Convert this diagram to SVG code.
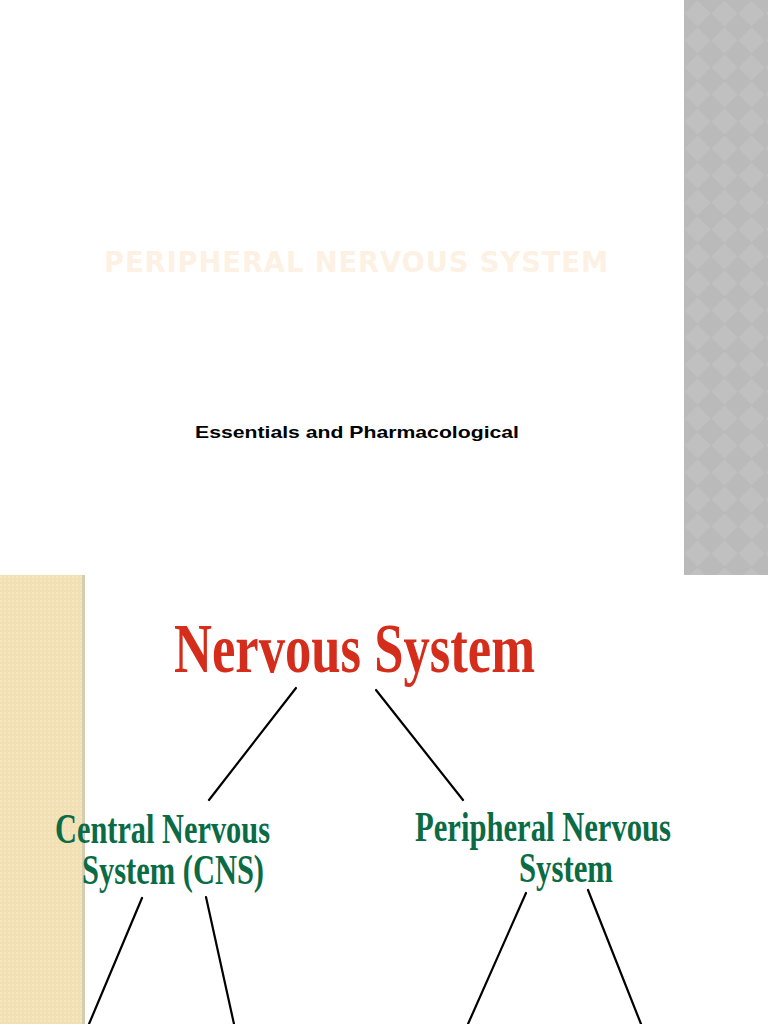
<svg xmlns="http://www.w3.org/2000/svg" width="768" height="1024" viewBox="0 0 768 1024">
<style>
.title{font-family:"DejaVu Sans",sans-serif;font-weight:bold;font-size:28px;fill:#fdf1e3;letter-spacing:1px}
.sub{font-family:"Liberation Sans",Arial,sans-serif;font-weight:bold;font-size:17px;fill:#000}
.big{font-family:"Liberation Serif","Times New Roman",serif;font-weight:bold;fill:#d42d1c}
.grn{font-family:"Liberation Serif","Times New Roman",serif;font-weight:bold;fill:#0b6b45}
.conn line{stroke:#000;stroke-width:2.2;stroke-linecap:round}
</style>
<defs>
<pattern id="dia" x="684" y="0" width="27" height="27" patternUnits="userSpaceOnUse">
<rect width="27" height="27" fill="#bababa"/>
<polygon points="13.5,0.5 26.5,13.5 13.5,26.5 0.5,13.5" fill="#c0c0c0"/>
</pattern>
<pattern id="beige" width="4" height="4" patternUnits="userSpaceOnUse">
<rect width="4" height="4" fill="#f2e0b5"/>
<rect width="2" height="2" fill="#f5e5c0"/>
</pattern>
</defs>
<rect width="768" height="1024" fill="#fff"/>
<rect x="684" y="0" width="84" height="575" fill="url(#dia)"/>
<rect x="0" y="575" width="83" height="449" fill="url(#beige)"/>
<rect x="82" y="575" width="3" height="449" fill="#d6ccb0"/>
<g id="title"><text class="title" x="104" y="272" textLength="505" lengthAdjust="spacingAndGlyphs">PERIPHERAL NERVOUS SYSTEM</text></g>
<g id="subtitle"><text class="sub" x="195" y="438" textLength="324" lengthAdjust="spacingAndGlyphs">Essentials and Pharmacological</text></g>
<g id="nervous-system"><text class="big" x="174" y="672" font-size="70" textLength="361" lengthAdjust="spacingAndGlyphs">Nervous System</text></g>
<g id="cns"><text class="grn" x="55" y="843" font-size="42" textLength="215" lengthAdjust="spacingAndGlyphs">Central Nervous</text>
<text class="grn" x="82" y="884" font-size="42" textLength="182" lengthAdjust="spacingAndGlyphs">System (CNS)</text></g>
<g id="pns"><text class="grn" x="415" y="841" font-size="42" textLength="256" lengthAdjust="spacingAndGlyphs">Peripheral Nervous</text>
<text class="grn" x="519" y="882" font-size="42" textLength="94" lengthAdjust="spacingAndGlyphs">System</text></g>
<g class="conn" id="connectors">
<line x1="296" y1="688" x2="209" y2="800"/>
<line x1="376" y1="690" x2="463" y2="800"/>
<line x1="142" y1="898" x2="89" y2="1024"/>
<line x1="206" y1="897" x2="234" y2="1024"/>
<line x1="526" y1="893" x2="468" y2="1024"/>
<line x1="588" y1="890" x2="641" y2="1024"/>
</g>
</svg>
